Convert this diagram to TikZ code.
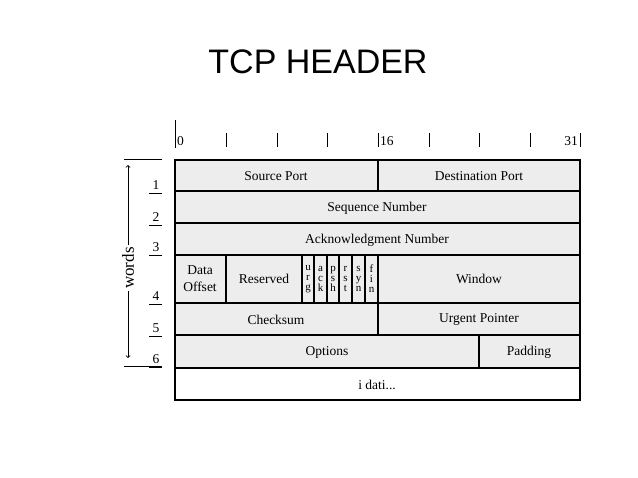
\documentclass[tikz,border=0pt]{standalone}
\usepackage{fontspec}
\setmainfont{Liberation Serif}
\newfontfamily\titlefont{Liberation Sans}
\begin{document}
\begin{tikzpicture}[x=1pt,y=-1pt,
  cell/.style={draw=black,line width=1.2pt,fill=black!7},
  lbl/.style={font=\fontsize{13.5}{14}\selectfont,inner sep=0pt},
  flag/.style={font=\fontsize{11}{10}\selectfont,inner sep=0pt,align=center},
  tick/.style={line width=1pt}]
\useasboundingbox (0,0) rectangle (638,478);
\node[font=\titlefont\fontsize{34}{36}\selectfont] (title) at (318,62) {TCP HEADER};
% ruler
\draw[tick] (175,120) -- (175,148);
\foreach \x in {226,277,327,378,429,479,530,580} \draw[tick] (\x,133) -- (\x,147);
\node[lbl,anchor=west] (r0) at (177,141) {0};
\node[lbl,anchor=west] (r16) at (380,141) {16};
\node[lbl,anchor=east] (r31) at (578,141) {31};
% rows
\draw[cell] (175,160) rectangle (378,191);
\draw[cell] (378,160) rectangle (580,191);
\draw[cell] (175,191) rectangle (580,223);
\draw[cell] (175,223) rectangle (580,255);
\draw[cell] (175,255) rectangle (226,303);
\draw[cell] (226,255) rectangle (302,303);
\foreach \a/\b in {302/314,314/327,327/339,339/352,352/365,365/378} \draw[cell] (\a,255) rectangle (\b,303);
\draw[cell] (378,255) rectangle (580,303);
\draw[cell] (175,303) rectangle (378,335);
\draw[cell] (378,303) rectangle (580,335);
\draw[cell] (175,335) rectangle (479,368);
\draw[cell] (479,335) rectangle (580,368);
\draw[draw=black,line width=1.2pt,fill=white] (175,368) rectangle (580,400);
\node[lbl] (sp) at (276,176) {Source Port};
\node[lbl] (dp) at (479,176) {Destination Port};
\node[lbl] (sn) at (377,208) {Sequence Number};
\node[lbl] (an) at (377,240) {Acknowledgment Number};
\node[lbl,align=center] (do) at (200,279) {Data\\[3pt]Offset};
\node[lbl] (rs) at (264,279) {Reserved};
\node[flag] (f1) at (308,279) {u\\r\\g};
\node[flag] (f2) at (320.5,279) {a\\c\\k};
\node[flag] (f3) at (333,279) {p\\s\\h};
\node[flag] (f4) at (345.5,279) {r\\s\\t};
\node[flag] (f5) at (358.5,279) {s\\y\\n};
\node[flag] (f6) at (371.5,279) {f\\i\\n};
\node[lbl] (wn) at (479,279) {Window};
\node[lbl] (cs) at (276,320) {Checksum};
\node[lbl] (up) at (479,319) {Urgent Pointer};
\node[lbl] (op) at (327,352) {Options};
\node[lbl] (pd) at (529,352) {Padding};
\node[lbl] (dt) at (377,385) {i dati...};
% words scale
\draw[line width=1pt] (124,160) -- (162,160);
\draw[line width=1pt] (124,367) -- (162,367);
\foreach \n/\y in {1/185,2/217,3/247,4/296,5/328,6/359}{
  \node[lbl] (w\n) at (156,\y) {\n};
  \draw[line width=0.8pt] (149,\y+8) -- (162,\y+8);
}
\node[font=\fontsize{17}{17}\selectfont,rotate=90,inner sep=2pt] (words) at (128,268) {words};
\coordinate (at) at (128,165);
\coordinate (ab) at (128,358);
\draw[line width=0.8pt,->] (words.east) -- (at);
\draw[line width=0.8pt,->] (words.west) -- (ab);
\end{tikzpicture}
\end{document}
